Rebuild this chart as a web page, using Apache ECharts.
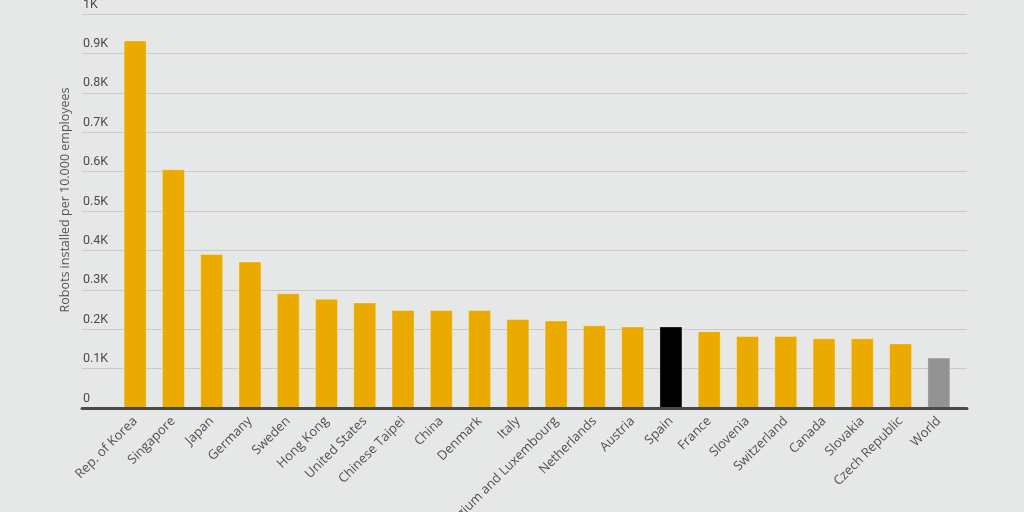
<!DOCTYPE html>
<html>
<head>
<meta charset="utf-8">
<script src="https://cdn.jsdelivr.net/npm/echarts@6/dist/echarts.min.js"></script>
<style>
  html, body { margin: 0; padding: 0; background: #e6e8e7; }
  #chart { width: 1024px; height: 512px; }
</style>
</head>
<body>
<div id="chart"></div>
<script>
// robots per 10.000 employees
var countries = ['Rep. of Korea', 'Singapore', 'Japan', 'Germany', 'Sweden', 'Hong Kong',
    'United States', 'Chinese Taipei', 'China', 'Denmark', 'Italy', 'Belgium and Luxembourg',
    'Netherlands', 'Austria', 'Spain', 'France', 'Slovenia', 'Switzerland', 'Canada',
    'Slovakia', 'Czech Republic', 'World'];
var robots = [933, 606, 391, 372, 291, 277, 268, 249, 249, 249, 226, 222,
    210, 207, 207, 195, 183, 183, 177, 177, 164, 128];
var yTicks = ['0', '0.1K', '0.2K', '0.3K', '0.4K', '0.5K', '0.6K', '0.7K', '0.8K', '0.9K', '1K'];

var gold = '#eaaa00';
var highlight = { 'Spain': '#000000', 'World': '#939393' };

var chart = echarts.init(document.getElementById('chart'));

var barData = robots.map(function(v, i){
    return {
        value: v,
        itemStyle: { color: highlight[countries[i]] || gold }
    };
});

chart.setOption({
    backgroundColor: '#e6e8e7',
    animation: false,
    grid: [
        { left: 82, right: 57, top: 14, bottom: 104, containLabel: false, outerBoundsMode: 'none' },
        { left: 116, right: 66, top: 14, bottom: 104, containLabel: false, outerBoundsMode: 'none' }
    ],
    xAxis: [
        {
            gridIndex: 0, type: 'value', min: 0, max: 1,
            z: 5,
            axisLine: { show: true, lineStyle: { color: '#4a4a4a', width: 3 } },
            axisTick: { show: false },
            axisLabel: { show: false },
            splitLine: { show: false }
        },
        {
            gridIndex: 1, type: 'category', data: countries,
            axisLine: { show: false },
            axisTick: { show: false },
            axisLabel: {
                rotate: 45, interval: 0, margin: 11,
                color: '#505050', fontSize: 13,
                fontFamily: '"Open Sans", sans-serif'
            }
        }
    ],
    yAxis: [
        {
            gridIndex: 0, type: 'value', min: 0, max: 1000, interval: 100,
            name: 'Robots installed per 10.000 employees',
            nameLocation: 'middle', nameGap: 8,
            nameTextStyle: {
                color: '#555', fontSize: 12.5,
                fontFamily: '"Open Sans", sans-serif',
                padding: [0, 0, 0, 22]
            },
            axisLine: { show: false },
            axisTick: { show: false },
            axisLabel: {
                inside: true, margin: 1, verticalAlign: 'bottom',
                padding: [0, 0, 3, 0],
                color: '#4a4a4a', fontSize: 12.5,
                fontFamily: 'Roboto, sans-serif',
                formatter: function(v){ return yTicks[Math.round(v / 100)]; }
            },
            splitLine: { lineStyle: { color: '#c9cac9', width: 1 } }
        },
        {
            gridIndex: 1, type: 'value', min: 0, max: 1000,
            show: false
        }
    ],
    series: [
        {
            type: 'bar',
            xAxisIndex: 1, yAxisIndex: 1,
            barWidth: 23,
            data: barData,
            itemStyle: { borderColor: 'rgba(255,255,255,0.3)', borderWidth: 1 }
        }
    ]
});
</script>
</body>
</html>
